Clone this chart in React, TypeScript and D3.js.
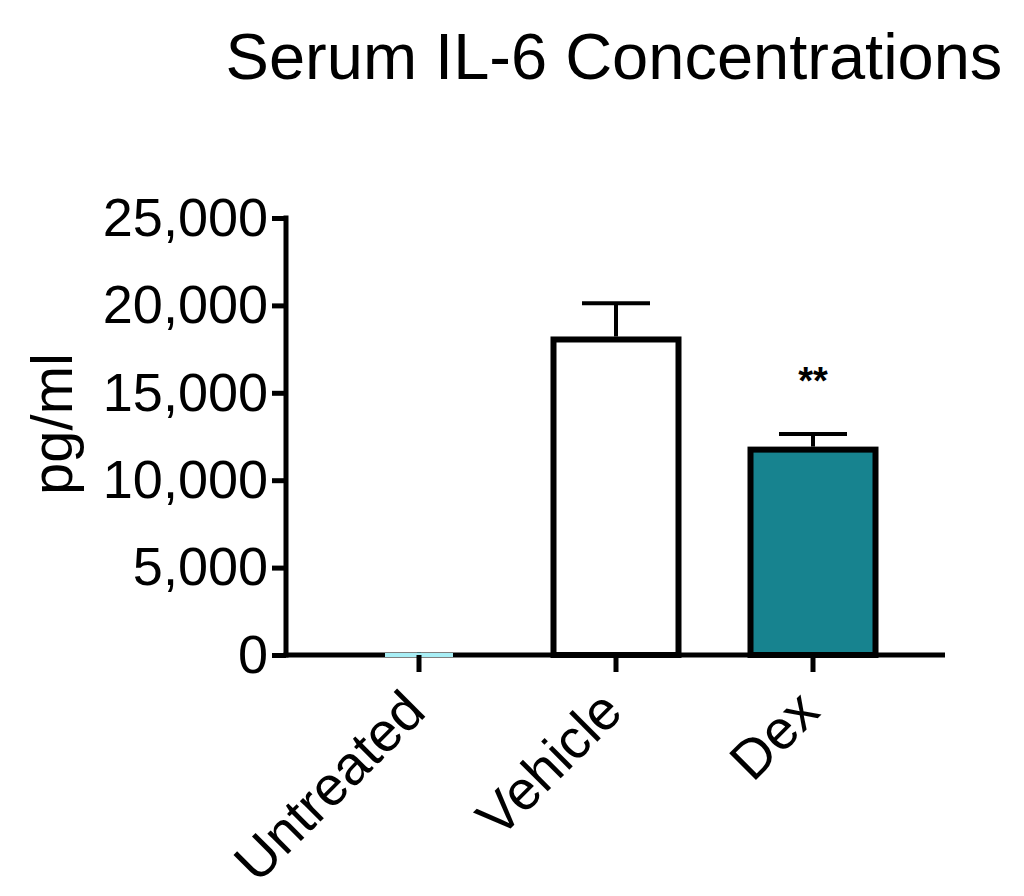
import React, { useEffect, useRef } from 'react';
import * as d3 from 'd3';

const groups = ['Untreated', 'Vehicle', 'Dex'];
const means = [0, 18050, 11750];
const errors = [0, 2080, 900];
const fills = ['#ffffff', '#ffffff', '#17838f'];
const strokes = ['#a8eef5', '#000000', '#000000'];
const marks = ['', '', '**'];
const yTicks = [0, 5000, 10000, 15000, 20000, 25000];

const FONT = "Arial, 'Liberation Sans', Helvetica, sans-serif";

const App: React.FC = () => {
  const svgRef = useRef<SVGSVGElement>(null);

  useEffect(() => {
    if (!svgRef.current) return;
    const width = 1024;
    const height = 896;
    const axisLeft = 286;
    const axisRight = 945;
    const top = 218;
    const base = 655;
    const barW = 125;

    const svg = d3.select(svgRef.current);
    svg.selectAll('*').remove();

    const x = d3.scalePoint<string>().domain(groups).range([419, 813]);
    const y = d3.scaleLinear().domain([0, 25000]).range([base, top]);
    const idx = (d: string) => groups.indexOf(d);

    // title
    svg.append('text')
      .attr('x', 614)
      .attr('y', 79)
      .attr('text-anchor', 'middle')
      .attr('font-family', FONT)
      .attr('font-size', 65)
      .text('Serum IL-6 Concentrations');

    // y axis
    const yAxis = svg.append('g')
      .attr('transform', `translate(${axisLeft},0)`)
      .call(d3.axisLeft(y).tickValues(yTicks).tickFormat(d3.format(',')).tickSize(14).tickPadding(4));
    yAxis.select('.domain').remove();
    yAxis.append('line')
      .attr('x1', 0).attr('x2', 0)
      .attr('y1', top - 2.5).attr('y2', base + 2.5)
      .attr('stroke', '#000').attr('stroke-width', 5);
    yAxis.selectAll('.tick line').attr('stroke', '#000').attr('stroke-width', 5);
    yAxis.selectAll('.tick text')
      .attr('fill', '#000')
      .attr('font-family', FONT)
      .attr('font-size', 54);

    svg.append('text')
      .attr('transform', `translate(72,424) rotate(-90)`)
      .attr('text-anchor', 'middle')
      .attr('font-family', FONT)
      .attr('font-size', 58)
      .text('pg/ml');

    // bars
    const bar = svg.append('g')
      .selectAll('g')
      .data(groups)
      .join('g');

    bar.filter(d => means[idx(d)] > 0)
      .append('rect')
      .attr('x', d => (x(d) as number) - barW / 2)
      .attr('y', d => y(means[idx(d)]))
      .attr('width', barW)
      .attr('height', d => base - y(means[idx(d)]))
      .attr('fill', d => fills[idx(d)])
      .attr('stroke', d => strokes[idx(d)])
      .attr('stroke-width', 6);

    // error bars (upper only)
    bar.append('line')
      .attr('x1', d => x(d) as number)
      .attr('x2', d => x(d) as number)
      .attr('y1', d => y(means[idx(d)]) - 3)
      .attr('y2', d => y(means[idx(d)] + errors[idx(d)]))
      .attr('stroke', d => strokes[idx(d)])
      .attr('stroke-width', 4);
    bar.append('line')
      .attr('x1', d => (x(d) as number) - 34)
      .attr('x2', d => (x(d) as number) + 34)
      .attr('y1', d => y(means[idx(d)] + errors[idx(d)]))
      .attr('y2', d => y(means[idx(d)] + errors[idx(d)]))
      .attr('stroke', d => strokes[idx(d)])
      .attr('stroke-width', 4);

    // x axis
    const xAxis = svg.append('g');
    xAxis.append('line')
      .attr('x1', axisLeft - 2.5).attr('x2', axisRight)
      .attr('y1', base).attr('y2', base)
      .attr('stroke', '#000').attr('stroke-width', 5);
    // untreated cap drawn on top of the baseline
    xAxis.append('line')
      .attr('x1', (x('Untreated') as number) - 34)
      .attr('x2', (x('Untreated') as number) + 34)
      .attr('y1', y(means[0])).attr('y2', y(means[0]))
      .attr('stroke', strokes[0]).attr('stroke-width', 4);
    xAxis.selectAll('line.tick')
      .data(groups)
      .join('line')
      .attr('class', 'tick')
      .attr('x1', d => x(d) as number).attr('x2', d => x(d) as number)
      .attr('y1', base).attr('y2', base + 17)
      .attr('stroke', '#000').attr('stroke-width', 5);
    xAxis.selectAll('text')
      .data(groups)
      .join('text')
      .attr('transform', d => `translate(${(x(d) as number) + 9},714) rotate(-45)`)
      .attr('text-anchor', 'end')
      .attr('font-family', FONT)
      .attr('font-size', 55)
      .text(d => d);

    // significance marks
    bar.append('text')
      .attr('x', d => x(d) as number)
      .attr('y', d => y(means[idx(d)] + errors[idx(d)]) - 40)
      .attr('text-anchor', 'middle')
      .attr('font-family', FONT)
      .attr('font-weight', 'bold')
      .attr('font-size', 38)
      .text(d => marks[idx(d)]);

    svg.attr('width', width).attr('height', height);
  }, []);

  return (
    <div style={{ position: 'absolute', left: 0, top: 0, width: 1024, height: 896, background: '#fff' }}>
      <svg ref={svgRef} width={1024} height={896} style={{ display: 'block' }} />
    </div>
  );
};

export default App;
